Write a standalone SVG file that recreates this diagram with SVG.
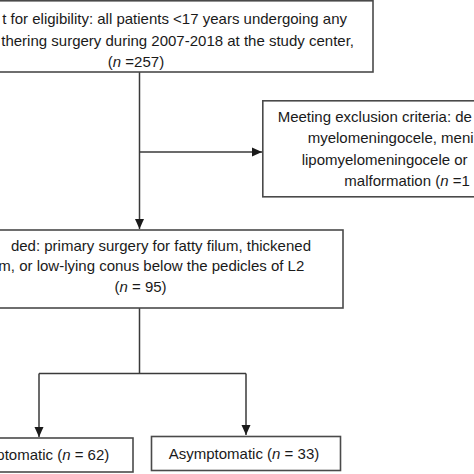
<svg xmlns="http://www.w3.org/2000/svg" width="474" height="474" viewBox="0 0 474 474">
<style>
.box{fill:#fff;stroke:#4a4a4a;stroke-width:1.6}
.t{font-family:"Liberation Sans",Arial,sans-serif;font-size:15px;fill:#1a1a1a}
.c{fill:none;stroke:#3a3a3a;stroke-width:1.5}
</style>
<defs>
<marker id="ah" markerUnits="userSpaceOnUse" markerWidth="10" markerHeight="10" viewBox="0 0 10 10" refX="10" refY="5" orient="auto">
<path d="M0,0.5 L10,5 L0,9.5 Z" fill="#1a1a1a"/>
</marker>
</defs>
<rect width="474" height="474" fill="#fff"/>
<g id="connectors">
<path class="c" d="M139.5,72 V229" marker-end="url(#ah)"/>
<path class="c" d="M139.5,152 H262" marker-end="url(#ah)"/>
<path class="c" d="M139.5,308 V373.5 M39,373.5 H246"/>
<path class="c" d="M39,373.5 V437" marker-end="url(#ah)"/>
<path class="c" d="M246,373.5 V435" marker-end="url(#ah)"/>
</g>
<g id="eligibility">
<rect class="box" x="-10" y="0.8" width="383" height="71.2"/>
<text class="t" x="347" y="24" text-anchor="end">t for eligibility: all patients &lt;17 years undergoing any</text>
<text class="t" x="354" y="45.5" text-anchor="end">thering surgery during 2007-2018 at the study center,</text>
<text class="t" x="136" y="67" text-anchor="middle">(<tspan font-style="italic">n</tspan> =257)</text>
</g>
<g id="excluded">
<rect class="box" x="262.8" y="100.8" width="220" height="96"/>
<text class="t" x="277.7" y="121.5">Meeting exclusion criteria: de</text>
<text class="t" x="307.7" y="143">myelomeningocele, meni</text>
<text class="t" x="301.7" y="164.5">lipomyelomeningocele or</text>
<text class="t" x="344.3" y="186">malformation (<tspan font-style="italic">n</tspan> =1</text>
</g>
<g id="included">
<rect class="box" x="-10" y="230" width="353" height="78"/>
<text class="t" x="311" y="250.7" text-anchor="end">ded: primary surgery for fatty filum, thickened</text>
<text class="t" x="304.3" y="271" text-anchor="end">m, or low-lying conus below the pedicles of L2</text>
<text class="t" x="140.5" y="291.5" text-anchor="middle">(<tspan font-style="italic">n</tspan> = 95)</text>
</g>
<g id="symptomatic">
<rect class="box" x="-10" y="438" width="143" height="34"/>
<text class="t" x="109.3" y="460" text-anchor="end">ptomatic (<tspan font-style="italic">n</tspan> = 62)</text>
</g>
<g id="asymptomatic">
<rect class="box" x="151.5" y="436.5" width="189" height="34"/>
<text class="t" x="244" y="459" text-anchor="middle">Asymptomatic (<tspan font-style="italic">n</tspan> = 33)</text>
</g>
</svg>
